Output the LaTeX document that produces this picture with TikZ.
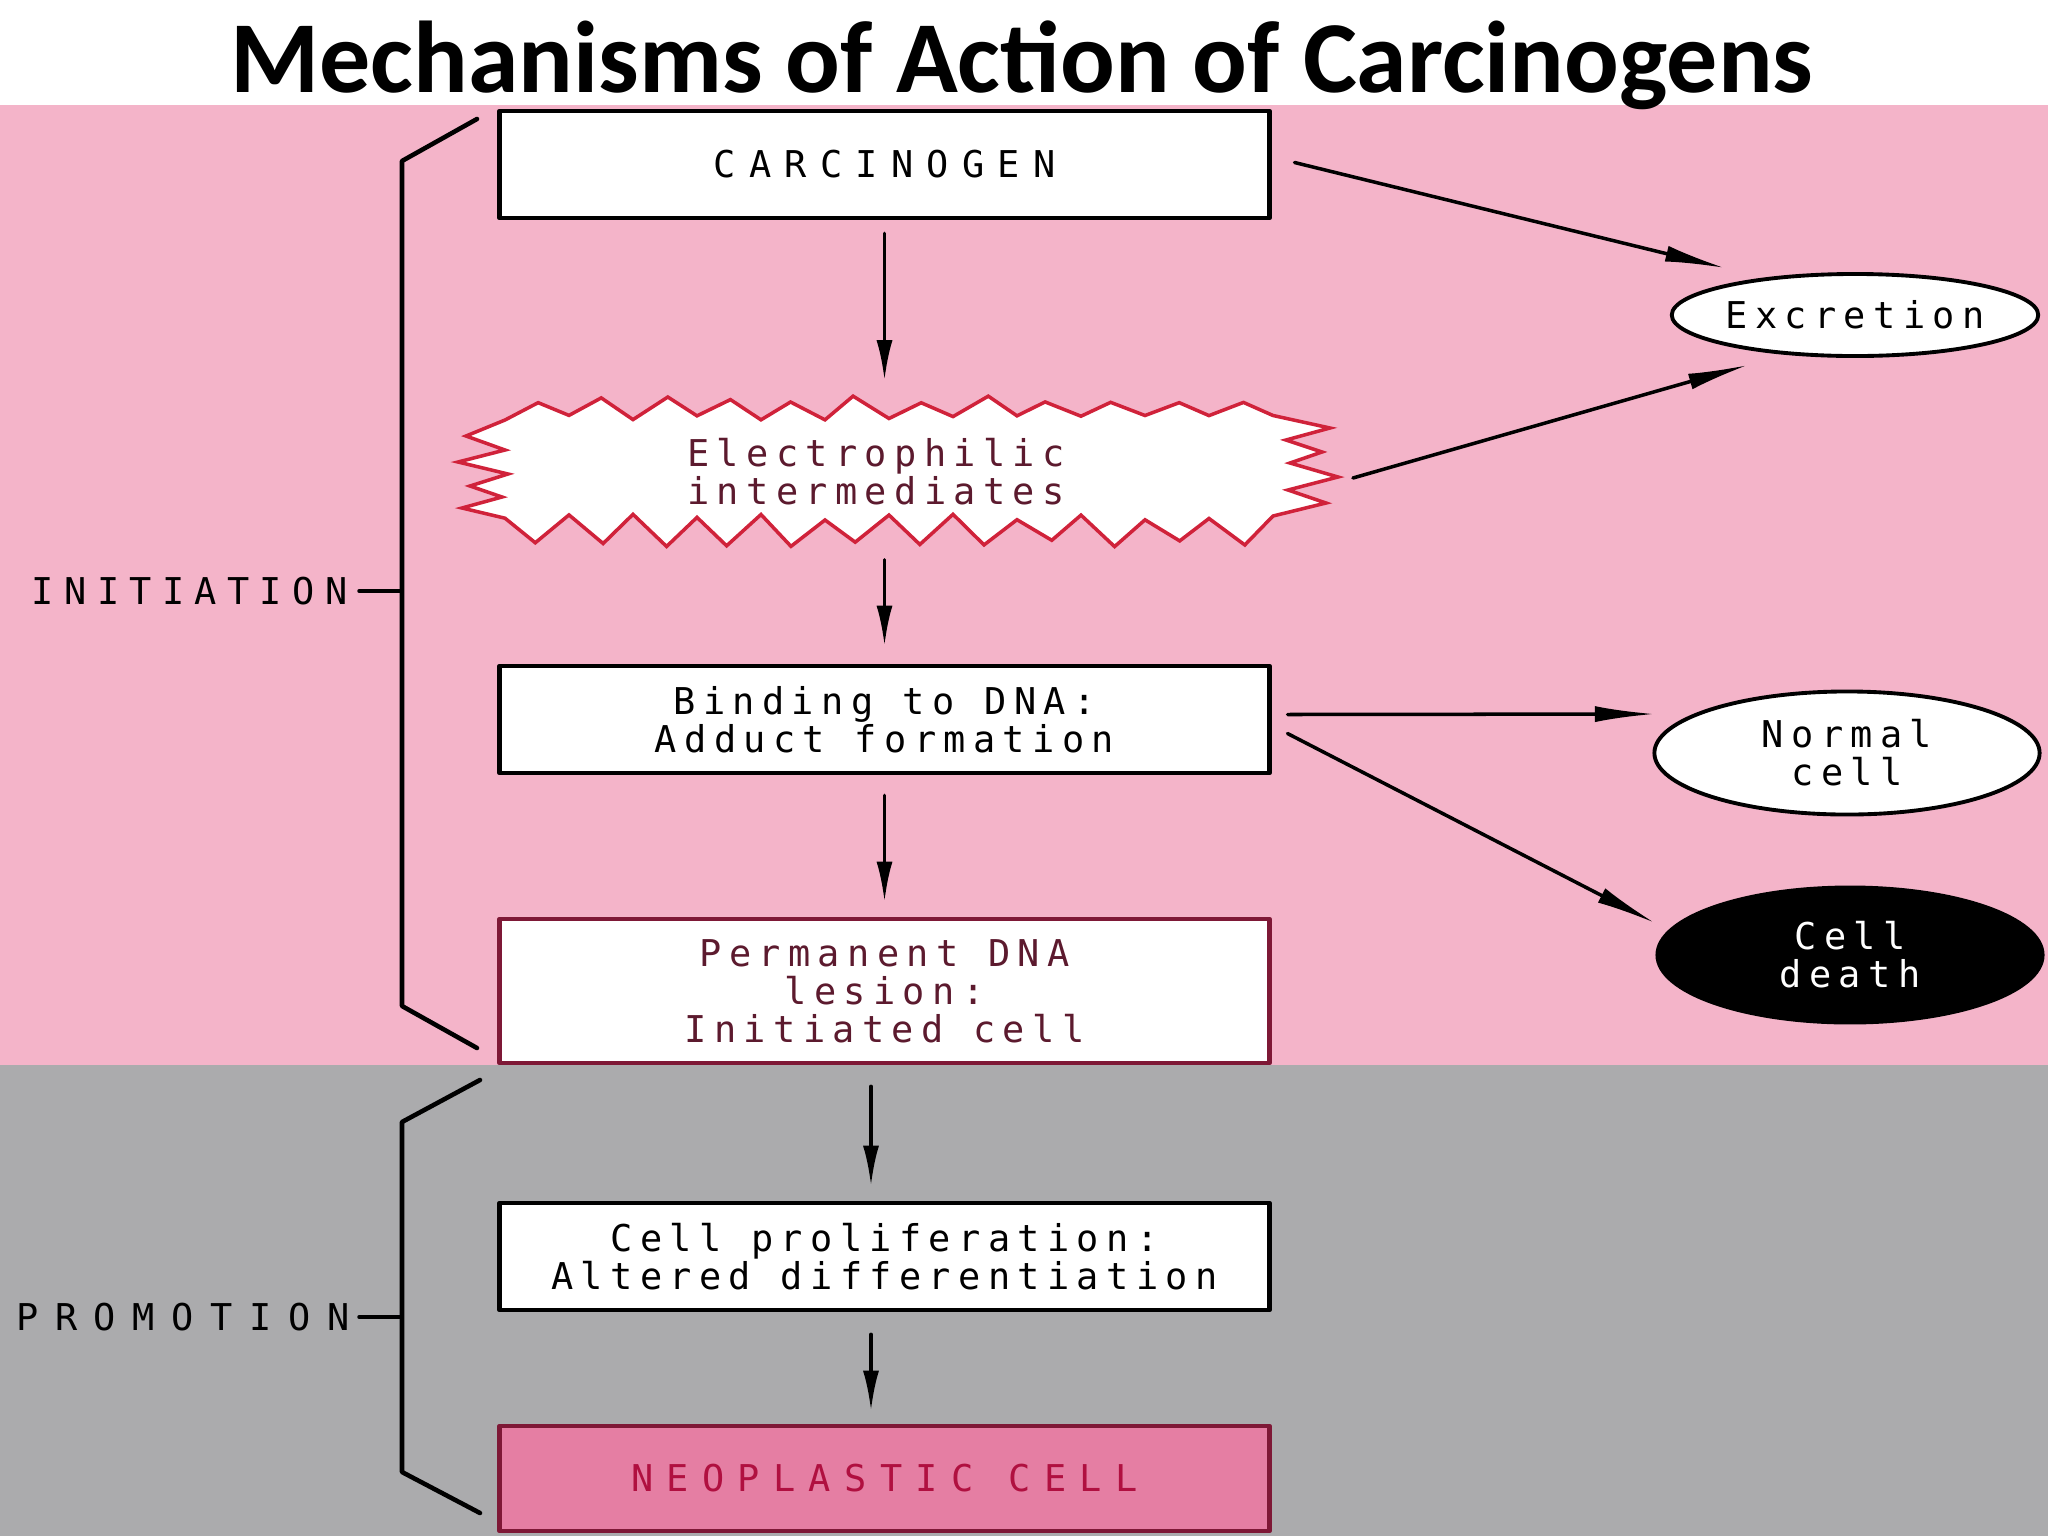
\documentclass[tikz,border=0pt]{standalone}
\usepackage{fontspec}
\setmainfont{Carlito}
\newfontfamily\pixfont[LetterSpace=20]{DejaVu Sans Mono}
\newfontfamily\pixwide[LetterSpace=36]{DejaVu Sans Mono}
\newfontfamily\pixinit[LetterSpace=28]{DejaVu Sans Mono}
\newfontfamily\pixpromo[LetterSpace=45]{DejaVu Sans Mono}
\usetikzlibrary{arrows.meta,calc,shapes.geometric}
\definecolor{pinkbg}{HTML}{F4B4C9}
\definecolor{graybg}{HTML}{ABABAD}
\definecolor{neofill}{HTML}{E57EA3}
\definecolor{lesionred}{HTML}{7E1836}
\definecolor{burstred}{HTML}{D0223A}
\definecolor{maroontext}{HTML}{5C1A2E}
\definecolor{neotext}{HTML}{B01040}
\newcommand{\pixtext}{\pixfont\fontsize{10.5}{10.8}\selectfont}
\newcommand{\pixcaps}{\pixwide\fontsize{10.5}{10.8}\selectfont}
\tikzset{
  stepbox/.style={draw,line width=1.3pt,fill=white,minimum width=7.69cm,
    minimum height=1.07cm,inner sep=0pt,align=center,font=\pixtext},
  outcome/.style={ellipse,draw,line width=1.1pt,fill=white,inner sep=0pt,
    align=center,font=\pixtext},
  phase label/.style={anchor=east,inner sep=0pt},
  bracket/.style={line width=1.3pt},
  vflow/.style={-{Latex[length=0.4cm,width=0.16cm]},line width=1pt},
  sideflow/.style={-{Latex[length=0.6cm,width=0.16cm]},line width=1pt},
  burst/.style={fill=white,draw=burstred,line width=1pt,line join=miter}
}

\begin{document}
\begin{tikzpicture}[x=0.01cm,y=-0.01cm,line cap=round,line join=round]
  \useasboundingbox (0,0) rectangle (2048,1536);
  \fill[white] (0,0) rectangle (2048,105);
  \fill[pinkbg] (0,105) rectangle (2048,1065);
  \fill[graybg] (0,1065) rectangle (2048,1536);

  \node[anchor=base,font=\bfseries\fontsize{29}{31}\selectfont] (title) at (1022,92)
    {Mechanisms of Action of Carcinogens};

  % Initiation column.
  \node[stepbox] (carcin) at (884.5,164.5) {\pixcaps CARCINOGEN};

  \pgfmathsetseed{17}
  \draw[burst] (505,420)
    \foreach \i in {0,...,11} {
      -- ({505+\i*64+28+8*rnd},{396+7*rnd}) -- ({505+(\i+1)*64},{415+6*rnd}) }
    -- (1330,428) -- (1286,440) -- (1322,452) -- (1290,463) -- (1338,477)
    -- (1288,490) -- (1326,503) -- (1273,516)
    \foreach \i in {0,...,11} {
      -- ({1273-\i*64-36+8*rnd},{540+7*rnd}) -- ({1273-(\i+1)*64},{514+6*rnd}) }
    -- (462,508) -- (502,497) -- (470,486) -- (508,474) -- (458,462)
    -- (505,450) -- (466,436) -- cycle;
  \node[align=center,font=\pixtext,text=maroontext,minimum width=8.72cm,
    minimum height=1.48cm,inner sep=0pt] (electro) at (876,472)
    {Electrophilic\\intermediates};

  \node[stepbox] (binding) at (884.5,719.5) {Binding to DNA:\\Adduct formation};
  \node[stepbox,draw=lesionred,text=maroontext,minimum height=1.44cm] (lesion)
    at (884.5,991) {Permanent DNA\\lesion:\\Initiated cell};

  % Promotion column.
  \node[stepbox] (prolif) at (884.5,1256.5)
    {Cell proliferation:\\Altered differentiation};
  \node[stepbox,fill=neofill,draw=lesionred,text=neotext,minimum height=1.05cm,
    font=\pixcaps] (neo) at (884.5,1478.5) {NEOPLASTIC CELL};

  % Side outcomes.
  \node[outcome,minimum width=3.66cm,minimum height=0.82cm] (excr) at (1855,315)
    {Excretion};
  \node[outcome,minimum width=3.85cm,minimum height=1.23cm] (normal) at (1847,753)
    {Normal\\cell};
  \node[outcome,fill=black,text=white,minimum width=3.85cm,minimum height=1.35cm]
    (death) at (1850,955) {Cell\\death};

  \draw[vflow,shorten <=0.13cm,shorten >=0.17cm] (carcin.south)
    -- (carcin.south |- electro.north);
  \draw[vflow,shorten <=0.13cm,shorten >=0.18cm] (binding.north |- electro.south)
    -- (binding.north);
  \draw[vflow,shorten <=0.2cm,shorten >=0.15cm] (binding.south) -- (lesion.north);
  \draw[vflow,shorten <=0.21cm,shorten >=0.15cm] ([xshift=-0.135cm]lesion.south)
    -- ([xshift=-0.135cm]prolif.north);
  \draw[vflow,shorten <=0.22cm,shorten >=0.13cm] ([xshift=-0.135cm]prolif.south)
    -- ([xshift=-0.135cm]neo.north);

  \draw[sideflow] ($(carcin.east)+(23,-2)$) -- ($(excr.center)+(-130,-47)$);
  \draw[sideflow] ($(electro.east)+(40,6)$) -- ($(excr.center)+(-107,50)$);
  \draw[sideflow] ($(binding.east)+(16,-5)$) -- ($(normal.center)+(-192,-39)$);
  \draw[sideflow] ($(binding.east)+(16,14)$) -- ($(death.center)+(-195,-32)$);

  % Phase brackets.
  \coordinate (initmid) at (402,591);
  \coordinate (promomid) at (402,1317);
  \draw[bracket] (477,119) -- (402,161) -- (402,1006) -- (477,1048);
  \draw[bracket] (480,1080) -- (402,1122) -- (402,1472) -- (480,1513);
  \node[phase label,font=\pixinit\fontsize{10.5}{10.8}\selectfont] (initlbl)
    at (348,591) {INITIATION};
  \node[phase label,font=\pixpromo\fontsize{10.5}{10.8}\selectfont] (promolbl)
    at (350,1317) {PROMOTION};
  \draw[line width=1pt,shorten <=0.11cm] (initlbl.east) -- (initmid);
  \draw[line width=1pt,shorten <=0.09cm] (promolbl.east) -- (promomid);
\end{tikzpicture}
\end{document}
